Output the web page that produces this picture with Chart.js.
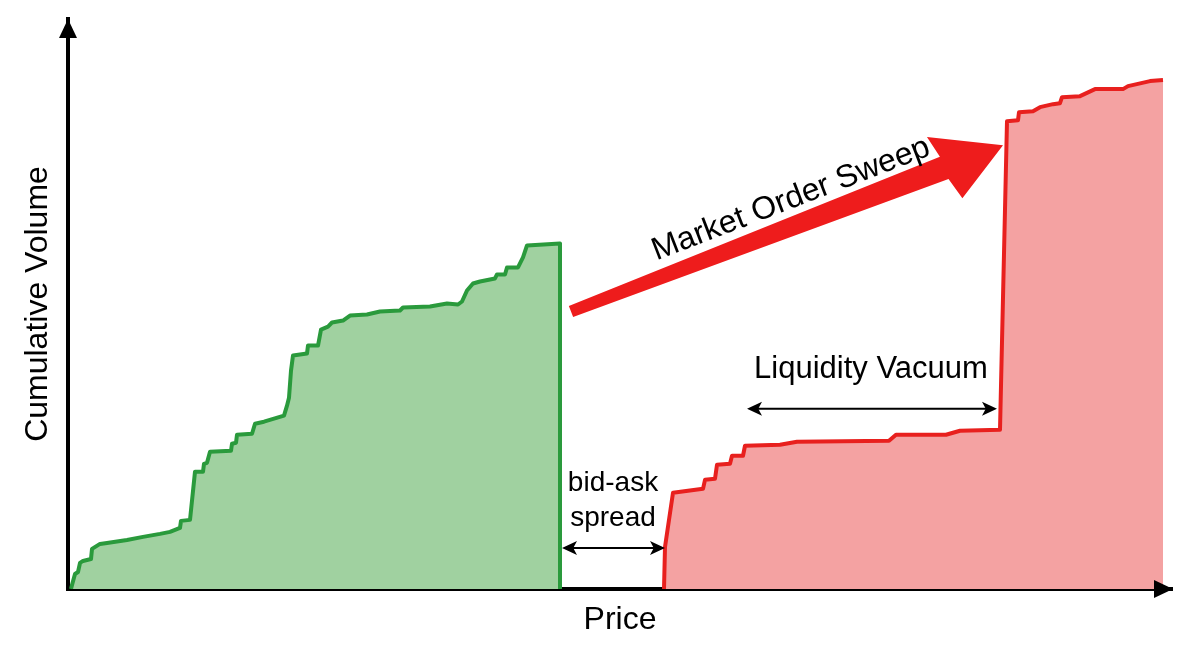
<!DOCTYPE html>
<html>
<head>
<meta charset="utf-8">
<title>Order book depth</title>
<script src="https://cdn.jsdelivr.net/npm/chart.js@4.4.1/dist/chart.umd.min.js"></script>
<style>
  body { margin: 0; background: #fff; }
  #depth { display: block; }
</style>
</head>
<body>
<canvas id="depth" width="1200" height="655"></canvas>
<script>
// bid side (green)
const bidPrice = [3, 4, 7, 10, 12, 15, 23, 24, 32, 39, 59, 75, 92, 102, 112, 113, 122, 127, 135, 136, 139, 142, 163, 164, 168, 169, 184, 187, 196, 216, 219, 221, 223, 225, 239, 240, 250, 253, 260, 264, 275, 282, 299, 312, 332, 335, 362, 379, 390, 394, 399, 405, 412, 427, 429, 437, 439, 450, 455, 459, 492, 492];
const bidVolume = [0, 4, 15, 17, 26, 28, 30, 40, 45, 46, 49, 52, 55, 57, 61, 68, 69, 117, 117, 125, 126, 137, 138, 145, 146, 154, 155, 165, 167, 173, 183, 191, 218, 233, 235, 243, 243, 259, 262, 266, 268, 273, 274, 277, 278, 281, 282, 285, 284, 287, 298, 305, 307, 310, 314, 314, 321, 321, 331, 343, 345, 0];

// ask side (red)
const askPrice = [596, 597, 605, 635, 637, 647, 649, 662, 664, 675, 677, 712, 729, 821, 828, 878, 892, 932, 939, 950, 951, 965, 972, 985, 992, 994, 1012, 1027, 1055, 1060, 1082, 1095];
const askVolume = [0, 42, 96, 100, 109, 110, 124, 125, 133, 133, 143, 144, 147, 148, 154, 154, 158, 159, 467, 468, 476, 477, 481, 484, 485, 491, 492, 499, 499, 502, 507, 508];

const xTitle = 'Price';
const yTitle = 'Cumulative Volume';
const spreadLabel = ['bid-ask', 'spread'];
const vacuumLabel = 'Liquidity Vacuum';
const sweepLabel = 'Market Order Sweep';

const FONT = '"Liberation Sans", Arial, Helvetica, sans-serif';

function toPoints(xs, ys) {
  return xs.map((x, i) => ({ x: x, y: ys[i] }));
}

function arrowHead(ctx, tx, ty, ang, len, half) {
  ctx.save();
  ctx.translate(tx, ty);
  ctx.rotate(ang);
  ctx.beginPath();
  ctx.moveTo(0, 0);
  ctx.lineTo(-len, -half);
  ctx.lineTo(-len * 0.75, 0);
  ctx.lineTo(-len, half);
  ctx.closePath();
  ctx.fill();
  ctx.restore();
}

function doubleArrow(ctx, x1, x2, y) {
  ctx.save();
  ctx.strokeStyle = '#000';
  ctx.fillStyle = '#000';
  ctx.lineWidth = 2;
  ctx.beginPath();
  ctx.moveTo(x1 + 8, y);
  ctx.lineTo(x2 - 8, y);
  ctx.stroke();
  arrowHead(ctx, x1, y, Math.PI, 15, 7);
  arrowHead(ctx, x2, y, 0, 15, 7);
  ctx.restore();
}

const notes = {
  id: 'notes',
  afterDraw(chart) {
    const ctx = chart.ctx;
    const xs = chart.scales.x, ys = chart.scales.y;
    const a = chart.chartArea;
    const px = v => xs.getPixelForValue(v);
    const py = v => ys.getPixelForValue(v);

    // axis arrow heads
    ctx.save();
    ctx.fillStyle = '#000';
    ctx.beginPath();
    ctx.moveTo(a.left, a.top);
    ctx.lineTo(a.left - 9, a.top + 19);
    ctx.lineTo(a.left + 9, a.top + 19);
    ctx.closePath();
    ctx.fill();
    ctx.beginPath();
    ctx.moveTo(a.right + 1, a.bottom);
    ctx.lineTo(a.right - 18, a.bottom - 9);
    ctx.lineTo(a.right - 18, a.bottom + 9);
    ctx.closePath();
    ctx.fill();
    ctx.restore();

    // bid-ask spread
    doubleArrow(ctx, px(494), px(597), py(41));
    ctx.save();
    ctx.fillStyle = '#000';
    ctx.font = '28px ' + FONT;
    ctx.textAlign = 'center';
    ctx.textBaseline = 'middle';
    ctx.fillText(spreadLabel[0], px(545), py(106));
    ctx.fillText(spreadLabel[1], px(545), py(71));
    // liquidity vacuum
    ctx.font = '31px ' + FONT;
    ctx.fillText(vacuumLabel, px(803), py(219));
    ctx.restore();
    doubleArrow(ctx, px(679), px(929), py(180));

    // market order sweep arrow
    const x0 = px(503), y0 = py(277), x1 = px(935), y1 = py(443);
    const ang = Math.atan2(y1 - y0, x1 - x0);
    const L = Math.hypot(x1 - x0, y1 - y0);
    const headLen = 63, headHalf = 35;
    ctx.save();
    ctx.translate(x0, y0);
    ctx.rotate(ang);
    ctx.fillStyle = '#ee1c1c';
    ctx.beginPath();
    ctx.moveTo(0, -6);
    ctx.lineTo(L - headLen, -12);
    ctx.lineTo(L - headLen - 5, -headHalf);
    ctx.lineTo(L, 0);
    ctx.lineTo(L - headLen + 6, headHalf);
    ctx.lineTo(L - headLen, 12);
    ctx.lineTo(0, 6);
    ctx.closePath();
    ctx.fill();
    ctx.restore();

    ctx.save();
    ctx.translate(px(723), py(389));
    ctx.rotate(ang);
    ctx.fillStyle = '#000';
    ctx.font = '32px ' + FONT;
    ctx.textAlign = 'center';
    ctx.textBaseline = 'middle';
    ctx.fillText(sweepLabel, 0, 0);
    ctx.restore();
  }
};

const ctx = document.getElementById('depth').getContext('2d');
const chart = new Chart(ctx, {
  type: 'line',
  data: {
    datasets: [{
      label: 'Bids',
      data: toPoints(bidPrice, bidVolume),
      borderColor: '#2a9a3c',
      backgroundColor: '#a0d1a0',
      borderWidth: 4,
      borderJoinStyle: 'round',
      fill: 'origin',
      tension: 0,
      pointRadius: 0
    }, {
      label: 'Asks',
      data: toPoints(askPrice, askVolume),
      borderColor: '#e8201e',
      backgroundColor: '#f4a2a2',
      borderWidth: 4,
      borderJoinStyle: 'round',
      fill: 'origin',
      tension: 0,
      pointRadius: 0
    }]
  },
  options: {
    responsive: false,
    animation: false,
    events: [],
    layout: { padding: { left: 0, right: 28, top: 19, bottom: 0 } },
    plugins: { legend: { display: false }, tooltip: { enabled: false } },
    scales: {
      x: {
        type: 'linear',
        min: 0,
        max: 1104,
        ticks: { display: false },
        grid: { color: 'transparent', drawTicks: false },
        border: { display: true, color: '#000', width: 4 },
        title: { display: true, text: xTitle, color: '#000', font: { family: FONT, size: 32 }, padding: { top: 0, bottom: 16 } },
        afterFit: s => { s.height = 66; }
      },
      y: {
        min: 0,
        max: 569,
        ticks: { display: false },
        grid: { color: 'transparent', drawTicks: false },
        border: { display: true, color: '#000', width: 4 },
        title: { display: true, text: yTitle, color: '#000', font: { family: FONT, size: 32 }, padding: { top: 19, bottom: 0 } },
        afterFit: s => { s.width = 68; }
      }
    }
  },
  plugins: [notes]
});
</script>
</body>
</html>
